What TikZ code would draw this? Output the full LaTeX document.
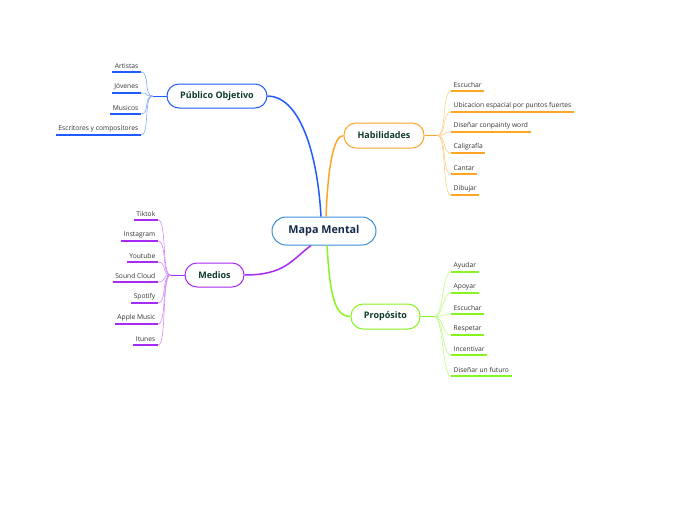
\documentclass[tikz,border=0pt]{standalone}
\usepackage{fontspec}
\setmainfont{Open Sans}
\usepackage{tikz}
\usetikzlibrary{positioning}
\definecolor{mapcenter}{HTML}{3A8ED8}
\definecolor{mapnavy}{HTML}{13294B}
\definecolor{maptext}{HTML}{0E3B2E}
\definecolor{mapleaf}{HTML}{333333}
\definecolor{mapblue}{HTML}{1F5BFF}
\definecolor{maporange}{HTML}{FFA526}
\definecolor{mappurple}{HTML}{A82AF5}
\definecolor{mapgreen}{HTML}{86F41E}

\tikzset{
  topic/.style={draw, fill=white, rounded corners=12pt, line width=1pt,
    minimum height=24pt, text=maptext,
    font=\fontsize{9}{10.5}\selectfont\bfseries},
  leaf/.style={inner xsep=2.5pt, inner ysep=3pt, text=mapleaf,
    font=\fontsize{6.7}{8}\selectfont},
  branch/.style={line width=1.5pt},
  stub/.style={line width=1pt},
  twig/.style={line width=0.6pt},
  underline/.style={line width=1.4pt}
}

\begin{document}
\begin{tikzpicture}[x=1pt, y=-1pt]
  \useasboundingbox (0,0) rectangle (696,520);

  % ── Central topic ──
  \node[draw=mapcenter, fill=white, rounded corners=14pt, line width=1pt,
    minimum width=104pt, minimum height=28pt, text=mapnavy,
    font=\fontsize{10.8}{12}\selectfont\bfseries] (mm) at (324,231) {Mapa Mental};

  % ── Main topics ──
  \node[topic, draw=mapblue, minimum width=100pt] (pub) at (217,96) {Público Objetivo};
  \node[topic, draw=maporange, minimum width=80pt, minimum height=25pt] (hab) at (384,135.5) {Habilidades};
  \node[topic, draw=mappurple, minimum width=59pt] (med) at (214.5,275) {Medios};
  \node[topic, draw=mapgreen, minimum width=69pt, minimum height=25pt] (pro) at (385.5,316.5) {Propósito};

  % Branches from the centre
  \draw[branch, mapblue] ([xshift=-3pt]mm.north) .. controls +(-4,-70) and +(30,0) .. (pub.east);
  \draw[branch, maporange] ([xshift=2pt]mm.north) .. controls +(2,-50) and +(-10,0) .. (hab.west);
  \draw[branch, mappurple] ([xshift=-13pt]mm.south) .. controls +(-20,15) and +(40,0) .. (med.east);
  \draw[branch, mapgreen] ([xshift=3pt]mm.south) .. controls +(3,50) and +(-16,0) .. (pro.west);

  % Hubs
  \draw[stub, mapblue] (pub.west) -- ++(-14,0) coordinate (pubhub);
  \draw[stub, maporange] (hab.east) -- ++(13,0) coordinate (habhub);
  \draw[stub, mappurple] (med.west) -- ++(-14,0) coordinate (medhub);
  \draw[stub, mapgreen] (pro.east) -- ++(14,0) coordinate (prohub);

  % ── Público Objetivo ──
  \foreach \i/\txt/\y in {1/Artistas/72, 2/Jóvenes/93, 3/Musicos/114,
      4/Escritores y compositores/135} {
    \node[leaf, anchor=south east] (pub-\i) at (141,\y) {\txt};
    \draw[twig, mapblue!55] (pubhub) .. controls +(-9,0) and +(9,0) .. (pub-\i.south east);
    \draw[underline, mapblue] (pub-\i.south west) -- (pub-\i.south east);
  }

  % ── Habilidades ──
  \foreach \i/\txt/\y in {1/Escuchar/91, 2/Ubicacion espacial por puntos fuertes/112,
      3/Diseñar conpainty word/132, 4/Caligrafía/153, 5/Cantar/174, 6/Dibujar/195} {
    \node[leaf, anchor=south west] (hab-\i) at (451,\y) {\txt};
    \draw[twig, maporange!55] (habhub) .. controls +(9,0) and +(-9,0) .. (hab-\i.south west);
    \draw[underline, maporange] (hab-\i.south west) -- (hab-\i.south east);
  }

  % ── Medios ──
  \foreach \i/\txt/\y in {1/Tiktok/220, 2/Instagram/241, 3/Youtube/262,
      4/Sound Cloud/282, 5/Spotify/303, 6/Apple Music/324, 7/Itunes/345} {
    \node[leaf, anchor=south east] (med-\i) at (158,\y) {\txt};
    \draw[twig, mappurple!55] (medhub) .. controls +(-9,0) and +(9,0) .. (med-\i.south east);
    \draw[underline, mappurple] (med-\i.south west) -- (med-\i.south east);
  }

  % ── Propósito ──
  \foreach \i/\txt/\y in {1/Ayudar/272, 2/Apoyar/293, 3/Escuchar/314,
      4/Respetar/335, 5/Incentivar/355, 6/Diseñar un futuro/376} {
    \node[leaf, anchor=south west] (pro-\i) at (451,\y) {\txt};
    \draw[twig, mapgreen!55] (prohub) .. controls +(9,0) and +(-9,0) .. (pro-\i.south west);
    \draw[underline, mapgreen] (pro-\i.south west) -- (pro-\i.south east);
  }
\end{tikzpicture}
\end{document}
